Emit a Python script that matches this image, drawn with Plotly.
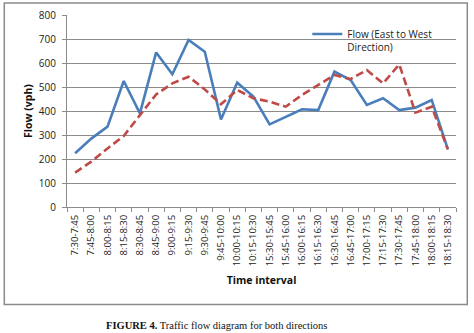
import plotly.graph_objects as go

categories = ["7:30-7:45", "7:45-8:00", "8:00-8:15", "8:15-8:30", "8:30-8:45", "8:45-9:00",
              "9:00-9:15", "9:15-9:30", "9:30-9:45", "9:45-10:00", "10:00-10:15", "10:15-10:30",
              "15:30-15:45", "15:45-16:00", "16:00-16:15", "16:15-16:30", "16:30-16:45", "16:45-17:00",
              "17:00-17:15", "17:15-17:30", "17:30-17:45", "17:45-18:00", "18:00-18:15", "18:15-18:30"]

flow_east_west = [224, 285, 335, 525, 390, 644, 553, 696, 647, 365, 518, 460,
                  344, 376, 407, 404, 564, 529, 425, 453, 404, 414, 446, 240]
flow_west_east = [143, 189, 244, 296, 383, 469, 515, 543, 490, 428, 488, 453,
                  439, 418, 467, 508, 550, 533, 571, 515, 594, 393, 418, 240]

y_ticks = [0, 100, 200, 300, 400, 500, 600, 700, 800]

W, H = 474, 333
L, R, T, B = 66.7, 455.7, 15.0, 206.7
pw, ph = R - L, B - T

def px(x):
    return (x - L) / pw

def py(y):
    return (B - y) / ph

font = "Open Sans"
grid = "#8c8c8c"

fig = go.Figure()
fig.add_trace(go.Scatter(x=categories, y=flow_east_west, mode="lines",
                         name="Flow (East to West<br>Direction)",
                         line=dict(color="#4A7EBB", width=2.6)))
fig.add_trace(go.Scatter(x=categories, y=flow_west_east, mode="lines",
                         name="Flow (West to East Direction)", showlegend=False,
                         line=dict(color="#BE4B48", width=2.6, dash="8px,4px")))

fig.update_layout(
    width=W, height=H,
    margin=dict(l=L, r=W - R, t=T, b=H - B, autoexpand=False),
    paper_bgcolor="white", plot_bgcolor="white",
    font=dict(family=font, size=10, color="#222"),
    showlegend=True,
    legend=dict(x=px(307), y=py(21), xanchor="left", yanchor="top",
                bgcolor="rgba(0,0,0,0)", itemwidth=30, valign="top",
                font=dict(family=font, size=10, color="#222"),
                tracegroupgap=0),
    xaxis=dict(type="category", tickangle=-90, tickson="boundaries",
               ticks="outside", ticklen=4, tickcolor=grid, showgrid=False,
               showline=True, linecolor=grid, linewidth=1,
               tickfont=dict(family=font, size=9.5, color="#222"),
               ticklabelstandoff=3,
               title=dict(text="<b>Time interval</b>", standoff=11,
                          font=dict(family=font, size=10.5, color="#111")),
               automargin=False, range=[-0.5, len(categories) - 0.5]),
    yaxis=dict(range=[0, 800], tickvals=y_ticks, showgrid=True, gridcolor=grid,
               gridwidth=1, ticks="outside", ticklen=4, tickcolor=grid,
               showline=True, linecolor=grid, linewidth=1, zeroline=False,
               tickfont=dict(family=font, size=10, color="#222"),
               ticklabelstandoff=4,
               title=dict(text="<b>Flow (vph)</b>", standoff=4,
                          font=dict(family=font, size=10.5, color="#111")),
               automargin=False),
)

fig.add_shape(type="rect", xref="paper", yref="paper",
              x0=px(4), x1=px(467), y0=py(304), y1=py(3),
              line=dict(color="#8a8a8a", width=1.5), fillcolor="rgba(0,0,0,0)", layer="below")

fig.add_annotation(xref="paper", yref="paper", x=px(104), y=py(325),
                   xanchor="left", yanchor="middle", showarrow=False,
                   text="<b>FIGURE 4.</b> Traffic flow diagram for both directions",
                   font=dict(family="Liberation Serif", size=10.5, color="#111"))

fig.write_html("out.html")
